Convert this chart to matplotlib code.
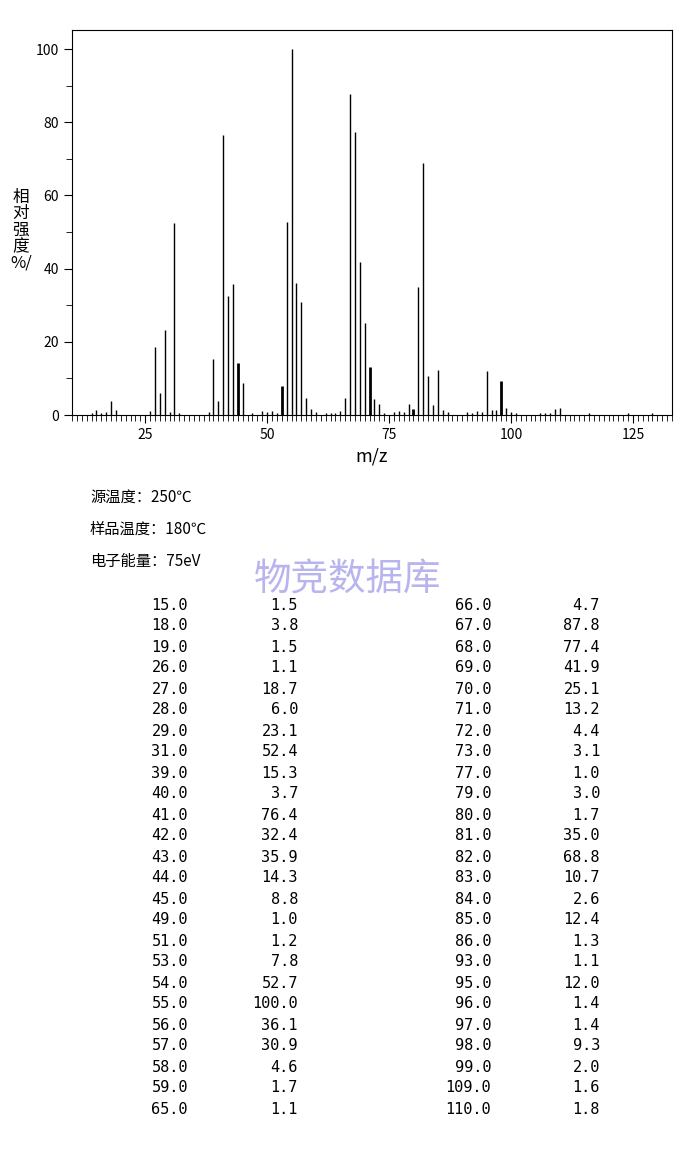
import matplotlib
matplotlib.use('Agg')
import matplotlib.pyplot as plt
from matplotlib.ticker import MultipleLocator

plt.rcParams['font.family'] = ['Noto Sans CJK SC', 'DejaVu Sans']

# 质谱峰（表中列出的）
mz = [15, 18, 19, 26, 27, 28, 29, 31, 39, 40, 41, 42, 43, 44, 45, 49, 51, 53, 54, 55,
      56, 57, 58, 59, 65, 66, 67, 68, 69, 70, 71, 72, 73, 77, 79, 80, 81, 82, 83, 84,
      85, 86, 93, 95, 96, 97, 98, 99, 109, 110]
inten = [1.5, 3.8, 1.5, 1.1, 18.7, 6.0, 23.1, 52.4, 15.3, 3.7, 76.4, 32.4, 35.9, 14.3, 8.8,
         1.0, 1.2, 7.8, 52.7, 100.0, 36.1, 30.9, 4.6, 1.7, 1.1, 4.7, 87.8, 77.4, 41.9, 25.1,
         13.2, 4.4, 3.1, 1.0, 3.0, 1.7, 35.0, 68.8, 10.7, 2.6, 12.4, 1.3, 1.1, 12.0, 1.4,
         1.4, 9.3, 2.0, 1.6, 1.8]
# 图中可见但表中未列出的小峰（估计）
small_mz = [14, 16, 17, 30, 32, 38, 47, 50, 52, 60, 62, 63, 64, 74, 76, 78, 87, 91, 92,
            94, 100, 101, 106, 107, 108, 116, 124, 129]
small_int = [0.5, 0.6, 0.8, 0.9, 0.6, 0.8, 0.5, 0.7, 0.6, 0.8, 0.5, 0.6, 0.5, 0.6, 0.8,
             0.7, 0.7, 0.9, 0.5, 0.9, 0.8, 0.6, 0.5, 0.6, 0.6, 0.6, 0.5, 0.6]
thick = [44, 53, 71, 80, 98]

info = ['源温度：250℃', '样品温度：180℃', '电子能量：75eV']

fig = plt.figure(figsize=(6.96, 11.62), dpi=100)
ax = fig.add_axes([72/696, 1-415/1162, 600/696, 385/1162])
for m, v in zip(mz + small_mz, inten + small_int):
    ax.vlines(m, 0, v, color='black', lw=2.0 if m in thick else 1.0)
ax.set_xlim(10, 133)
ax.set_ylim(0, 105.2)
ax.xaxis.set_major_locator(MultipleLocator(25))
ax.xaxis.set_minor_locator(MultipleLocator(1))
ax.yaxis.set_major_locator(MultipleLocator(20))
ax.yaxis.set_minor_locator(MultipleLocator(10))
ax.tick_params(which='major', length=6, labelsize=10)
ax.tick_params(which='minor', length=4)
ax.set_xlabel('m/z', fontsize=13)
fig.text(0.03, 1-230/1162, '相\n对\n强\n度\n%/', fontsize=12, ha='center', va='center',
         linespacing=0.95)

for i, s in enumerate(info):
    fig.text(90/696, 1-(497+32*i)/1162, s, fontsize=11, va='center')
fig.text(348/696, 1-580/1162, '物竞数据库', fontsize=27, color='#b8b4ee', ha='center',
         va='center')

half = 25
for i in range(half):
    y = 1 - (605 + 21*i)/1162
    cols = [(188, f'{mz[i]:.1f}'), (298, f'{inten[i]:.1f}'),
            (491, f'{mz[i+half]:.1f}'), (600, f'{inten[i+half]:.1f}')]
    for x, s in cols:
        fig.text(x/696, y, s, fontsize=11, family='DejaVu Sans Mono', ha='right', va='center')

fig.savefig('out.png', dpi=100)
